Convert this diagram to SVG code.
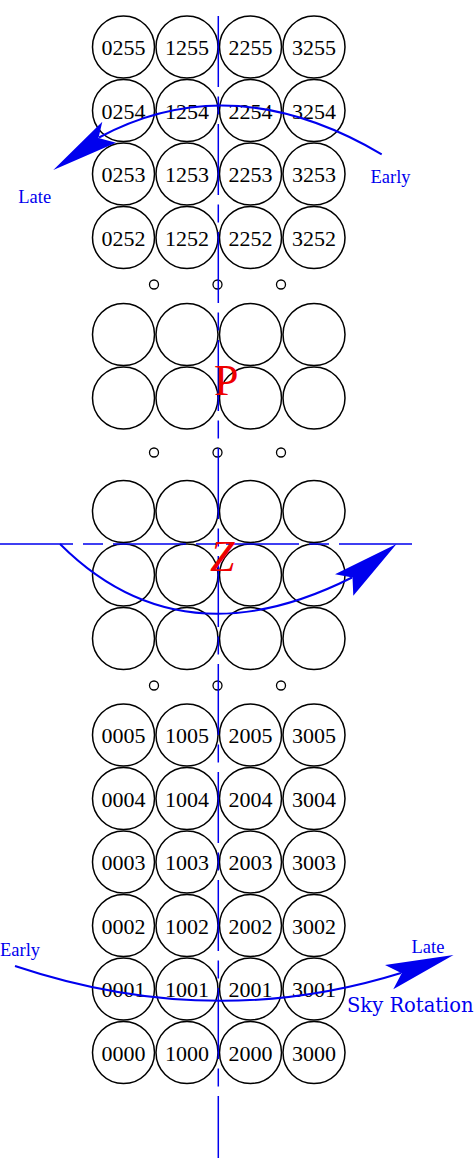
<svg xmlns="http://www.w3.org/2000/svg" width="474" height="1158" viewBox="0 0 474 1158">
<style>
.c{fill:none;stroke:#000;stroke-width:1.5}
.d{fill:none;stroke:#000;stroke-width:1.3}
.n{font-family:"Liberation Serif","Times New Roman",serif;font-size:22px;fill:#000;text-anchor:middle}
.ax{fill:none;stroke:#0000ee;stroke-width:1.5}
.arc{fill:none;stroke:#0000ee;stroke-width:2}
.ah{fill:#0000ee;stroke:none}
.lb{font-family:"Liberation Serif","Times New Roman",serif;font-size:18.5px;fill:#0000ee}
.big{font-family:"Liberation Serif","Times New Roman",serif;font-size:44px;fill:#ee0000}
</style>
<rect width="474" height="1158" fill="#fff"/>
<g id="nodes">
<g id="r0255"><circle class="c" cx="123.5" cy="47" r="31"/><text class="n" x="123.5" y="55">0255</text><circle class="c" cx="187" cy="47" r="31"/><text class="n" x="187" y="55">1255</text><circle class="c" cx="250.5" cy="47" r="31"/><text class="n" x="250.5" y="55">2255</text><circle class="c" cx="314" cy="47" r="31"/><text class="n" x="314" y="55">3255</text></g>
<g id="r0254"><circle class="c" cx="123.5" cy="110.5" r="31"/><text class="n" x="123.5" y="118.5">0254</text><circle class="c" cx="187" cy="110.5" r="31"/><text class="n" x="187" y="118.5">1254</text><circle class="c" cx="250.5" cy="110.5" r="31"/><text class="n" x="250.5" y="118.5">2254</text><circle class="c" cx="314" cy="110.5" r="31"/><text class="n" x="314" y="118.5">3254</text></g>
<g id="r0253"><circle class="c" cx="123.5" cy="174" r="31"/><text class="n" x="123.5" y="182">0253</text><circle class="c" cx="187" cy="174" r="31"/><text class="n" x="187" y="182">1253</text><circle class="c" cx="250.5" cy="174" r="31"/><text class="n" x="250.5" y="182">2253</text><circle class="c" cx="314" cy="174" r="31"/><text class="n" x="314" y="182">3253</text></g>
<g id="r0252"><circle class="c" cx="123.5" cy="237.5" r="31"/><text class="n" x="123.5" y="245.5">0252</text><circle class="c" cx="187" cy="237.5" r="31"/><text class="n" x="187" y="245.5">1252</text><circle class="c" cx="250.5" cy="237.5" r="31"/><text class="n" x="250.5" y="245.5">2252</text><circle class="c" cx="314" cy="237.5" r="31"/><text class="n" x="314" y="245.5">3252</text></g>
<g id="dots1"><circle class="d" cx="154" cy="284.5" r="4.5"/><circle class="d" cx="217.5" cy="284.5" r="4.5"/><circle class="d" cx="281" cy="284.5" r="4.5"/></g>
<g id="blankP1"><circle class="c" cx="123.5" cy="334.5" r="31"/><circle class="c" cx="187" cy="334.5" r="31"/><circle class="c" cx="250.5" cy="334.5" r="31"/><circle class="c" cx="314" cy="334.5" r="31"/></g>
<g id="blankP2"><circle class="c" cx="123.5" cy="398" r="31"/><circle class="c" cx="187" cy="398" r="31"/><circle class="c" cx="250.5" cy="398" r="31"/><circle class="c" cx="314" cy="398" r="31"/></g>
<g id="dots2"><circle class="d" cx="154" cy="452.5" r="4.5"/><circle class="d" cx="217.5" cy="452.5" r="4.5"/><circle class="d" cx="281" cy="452.5" r="4.5"/></g>
<g id="blankZ1"><circle class="c" cx="123.5" cy="511.5" r="31"/><circle class="c" cx="187" cy="511.5" r="31"/><circle class="c" cx="250.5" cy="511.5" r="31"/><circle class="c" cx="314" cy="511.5" r="31"/></g>
<g id="blankZ2"><circle class="c" cx="123.5" cy="575" r="31"/><circle class="c" cx="187" cy="575" r="31"/><circle class="c" cx="250.5" cy="575" r="31"/><circle class="c" cx="314" cy="575" r="31"/></g>
<g id="blankZ3"><circle class="c" cx="123.5" cy="638.5" r="31"/><circle class="c" cx="187" cy="638.5" r="31"/><circle class="c" cx="250.5" cy="638.5" r="31"/><circle class="c" cx="314" cy="638.5" r="31"/></g>
<g id="dots3"><circle class="d" cx="154" cy="685.5" r="4.5"/><circle class="d" cx="217.5" cy="685.5" r="4.5"/><circle class="d" cx="281" cy="685.5" r="4.5"/></g>
<g id="r0005"><circle class="c" cx="123.5" cy="735" r="31"/><text class="n" x="123.5" y="743">0005</text><circle class="c" cx="187" cy="735" r="31"/><text class="n" x="187" y="743">1005</text><circle class="c" cx="250.5" cy="735" r="31"/><text class="n" x="250.5" y="743">2005</text><circle class="c" cx="314" cy="735" r="31"/><text class="n" x="314" y="743">3005</text></g>
<g id="r0004"><circle class="c" cx="123.5" cy="798.5" r="31"/><text class="n" x="123.5" y="806.5">0004</text><circle class="c" cx="187" cy="798.5" r="31"/><text class="n" x="187" y="806.5">1004</text><circle class="c" cx="250.5" cy="798.5" r="31"/><text class="n" x="250.5" y="806.5">2004</text><circle class="c" cx="314" cy="798.5" r="31"/><text class="n" x="314" y="806.5">3004</text></g>
<g id="r0003"><circle class="c" cx="123.5" cy="862" r="31"/><text class="n" x="123.5" y="870">0003</text><circle class="c" cx="187" cy="862" r="31"/><text class="n" x="187" y="870">1003</text><circle class="c" cx="250.5" cy="862" r="31"/><text class="n" x="250.5" y="870">2003</text><circle class="c" cx="314" cy="862" r="31"/><text class="n" x="314" y="870">3003</text></g>
<g id="r0002"><circle class="c" cx="123.5" cy="925.5" r="31"/><text class="n" x="123.5" y="933.5">0002</text><circle class="c" cx="187" cy="925.5" r="31"/><text class="n" x="187" y="933.5">1002</text><circle class="c" cx="250.5" cy="925.5" r="31"/><text class="n" x="250.5" y="933.5">2002</text><circle class="c" cx="314" cy="925.5" r="31"/><text class="n" x="314" y="933.5">3002</text></g>
<g id="r0001"><circle class="c" cx="123.5" cy="989" r="31"/><text class="n" x="123.5" y="997">0001</text><circle class="c" cx="187" cy="989" r="31"/><text class="n" x="187" y="997">1001</text><circle class="c" cx="250.5" cy="989" r="31"/><text class="n" x="250.5" y="997">2001</text><circle class="c" cx="314" cy="989" r="31"/><text class="n" x="314" y="997">3001</text></g>
<g id="r0000"><circle class="c" cx="123.5" cy="1052.5" r="31"/><text class="n" x="123.5" y="1060.5">0000</text><circle class="c" cx="187" cy="1052.5" r="31"/><text class="n" x="187" y="1060.5">1000</text><circle class="c" cx="250.5" cy="1052.5" r="31"/><text class="n" x="250.5" y="1060.5">2000</text><circle class="c" cx="314" cy="1052.5" r="31"/><text class="n" x="314" y="1060.5">3000</text></g>
</g>
<g id="connectors">
<line class="ax" x1="218.3" y1="16" x2="218.3" y2="1158" stroke-dasharray="71 9.5 18 9.5"/>
<line class="ax" x1="0" y1="544" x2="413" y2="544" stroke-dasharray="73 10 20 10"/>
<path class="arc" d="M381.7,154.3 Q232,66 99,137.5"/>
<polygon class="ah" points="53.3,170 102.3,121.7 98.5,138 116,142.7"/>
<path class="arc" d="M60,544 Q180,664 352,577.5"/>
<polygon class="ah" points="396.5,544 335,574.3 352.5,577.5 353.3,595.7"/>
<path class="arc" d="M15,966 Q212,1032 401,973"/>
<polygon class="ah" points="453.5,955 385,965 401.7,973.3 393.3,989.3"/>
</g>
<g id="labels">
<text class="lb" x="18.3" y="203">Late</text>
<text class="lb" x="370.5" y="183">Early</text>
<text class="lb" x="0" y="956">Early</text>
<text class="lb" x="411.5" y="953">Late</text>
<text x="347" y="1011.7" style="font-family:'DejaVu Serif',serif;font-size:19.5px;fill:#0000ee">Sky Rotation</text>
<text class="big" x="214" y="395">P</text>
<text class="big" x="210" y="570.7" font-style="italic">Z</text>
</g>
</svg>
